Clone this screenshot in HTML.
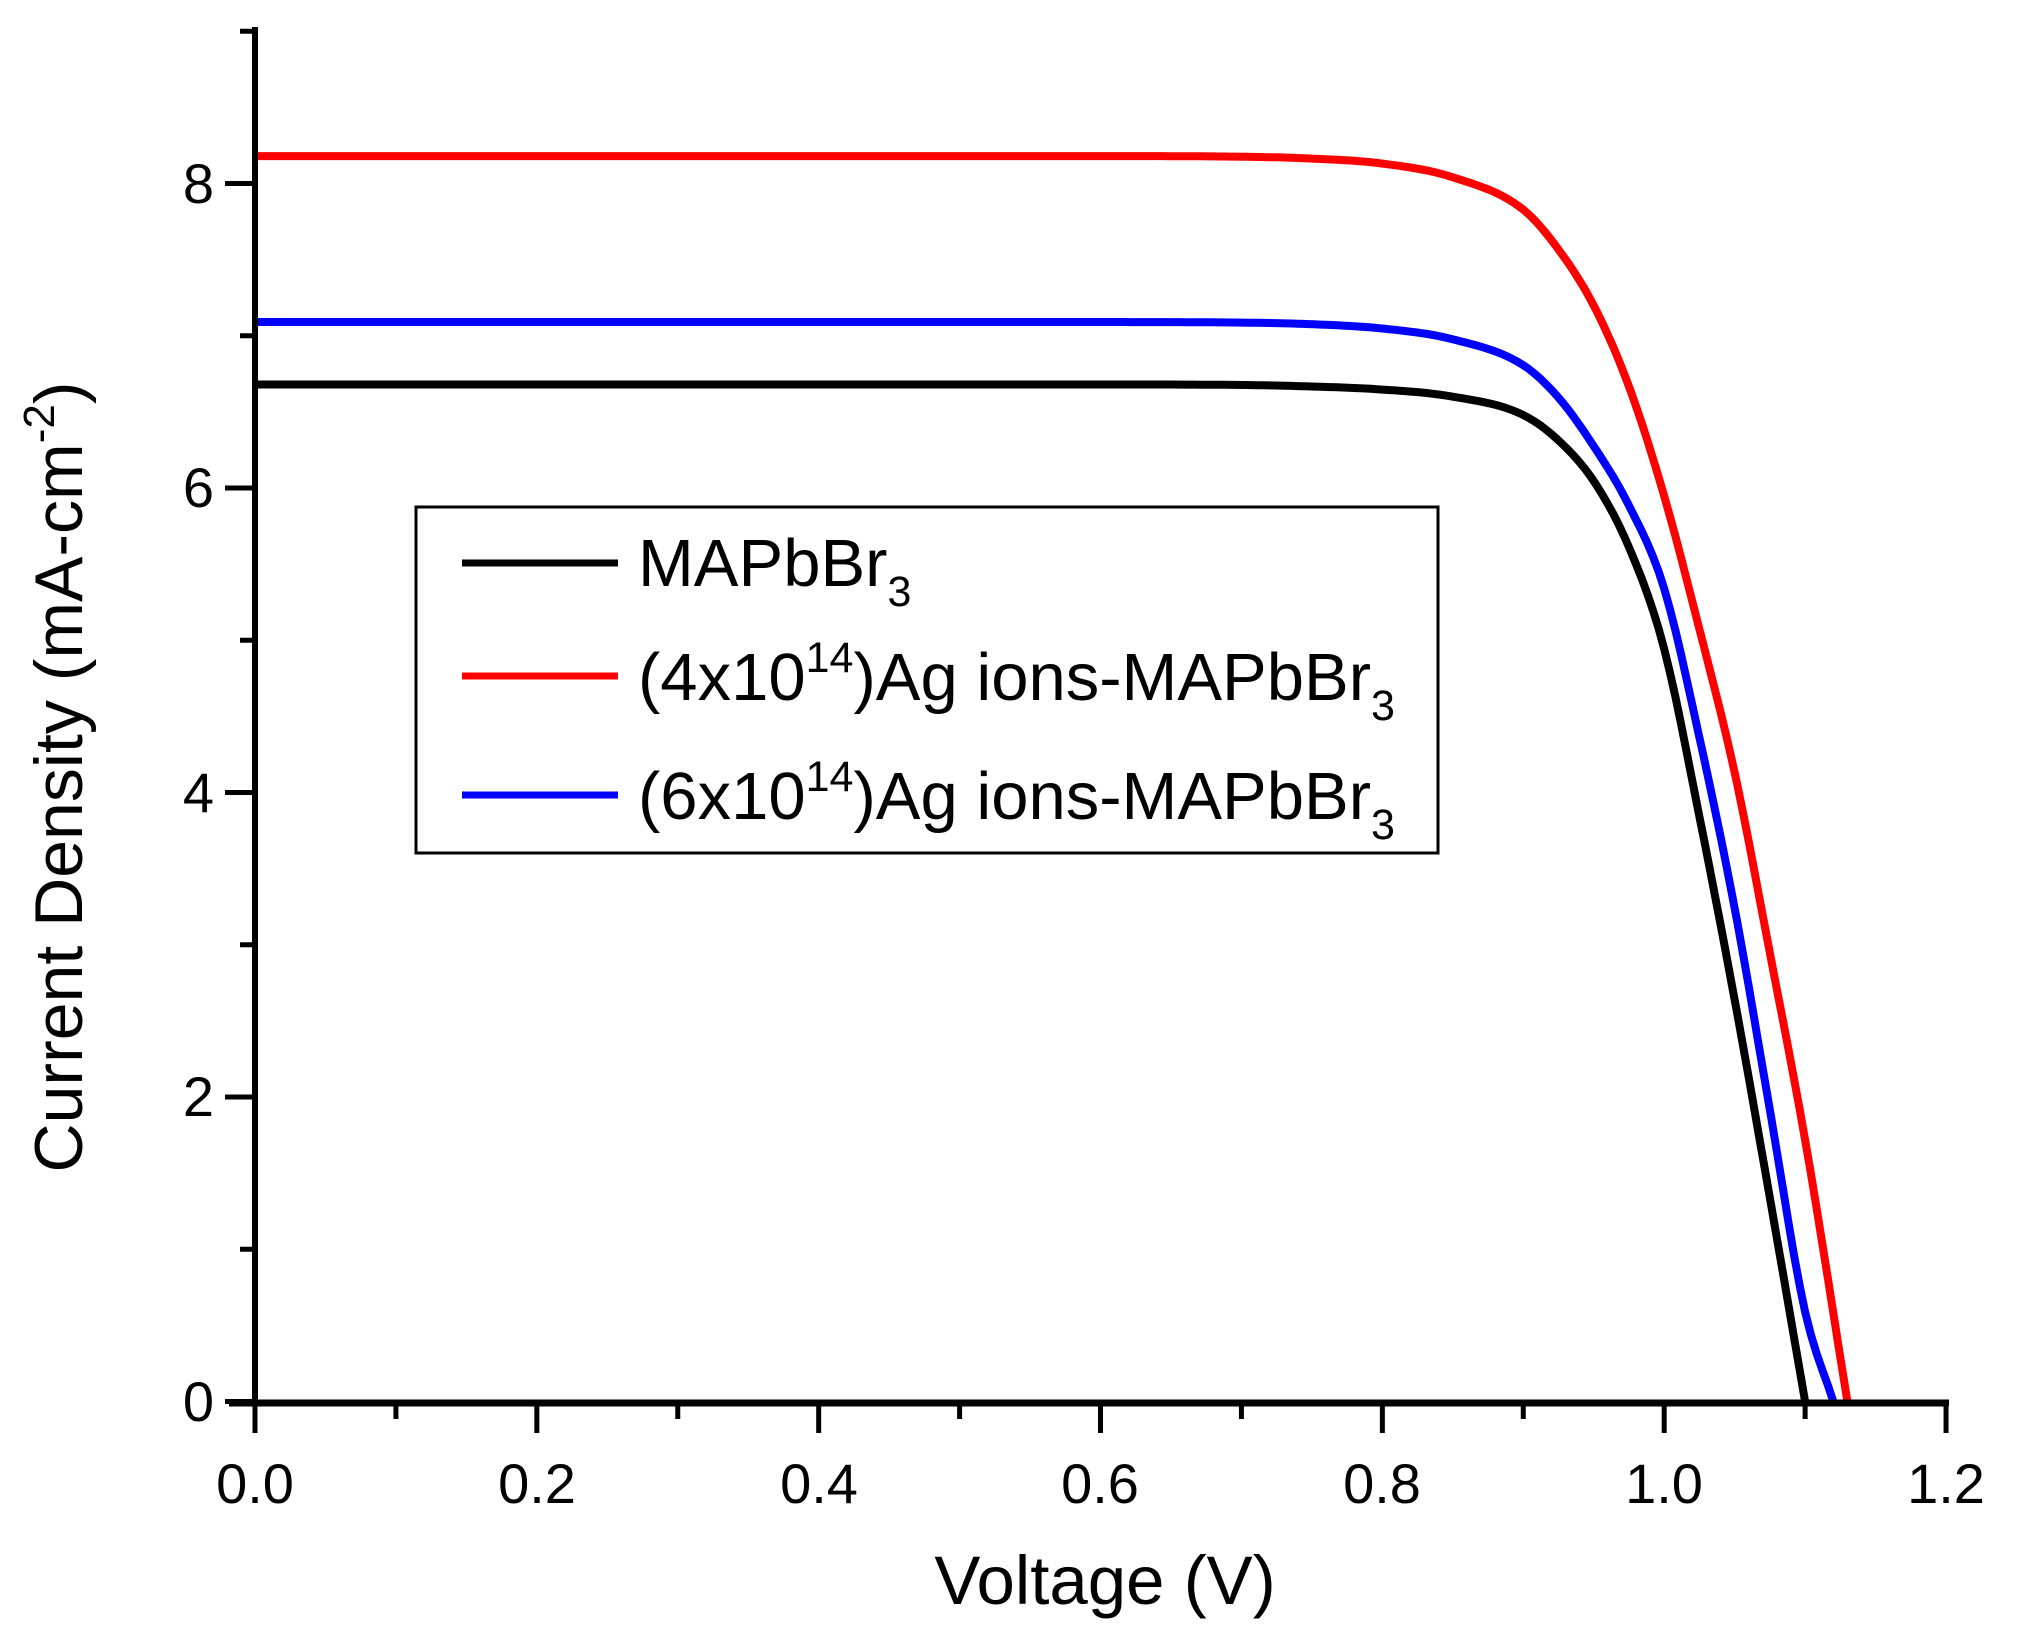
<!DOCTYPE html>
<html><head><meta charset="utf-8"><style>
html,body{margin:0;padding:0;background:#fff;}
svg text{font-family:"Liberation Sans",Arial,sans-serif;}
</style></head><body>
<svg id="s" width="2017" height="1636" viewBox="0 0 2017 1636" xmlns="http://www.w3.org/2000/svg">
<rect width="2017" height="1636" fill="#fff"/>
<g id="curves" fill="none" stroke-width="8" stroke-linejoin="round"></g>
<g stroke="#000" stroke-width="6" fill="none">
<line x1="255" y1="27" x2="255" y2="1405"/>
<line x1="229" y1="1403" x2="1949" y2="1403" stroke-width="7"/>
</g>
<g id="ticks" stroke="#000" stroke-width="5"></g>
<g font-size="56" fill="#000" text-anchor="middle">
<text x="255" y="1503">0.0</text><text x="537" y="1503">0.2</text><text x="819" y="1503">0.4</text>
<text x="1100" y="1503">0.6</text><text x="1382" y="1503">0.8</text><text x="1664" y="1503">1.0</text><text x="1946" y="1503">1.2</text>
</g>
<g font-size="56" fill="#000" text-anchor="end">
<text x="214" y="1421">0</text><text x="214" y="1116">2</text><text x="214" y="812">4</text><text x="214" y="507">6</text><text x="214" y="203">8</text>
</g>
<text x="1105" y="1604" font-size="69" text-anchor="middle">Voltage (V)</text>
<text transform="translate(82,777) rotate(-90)" font-size="68" text-anchor="middle">Current Density (mA-cm<tspan dy="-28" font-size="44">-2</tspan><tspan dy="28">)</tspan></text>
<rect x="416" y="507" width="1022" height="346" fill="#fff" stroke="#000" stroke-width="3"/>
<g stroke-width="7">
<line x1="462" y1="563" x2="618" y2="563" stroke="#000"/>
<line x1="462" y1="676" x2="618" y2="676" stroke="#f00"/>
<line x1="462" y1="795" x2="618" y2="795" stroke="#00f"/>
</g>
<g font-size="67" fill="#000">
<text x="638" y="586">MAPbBr<tspan dy="20" font-size="43">3</tspan></text>
<text x="638" y="700">(4x10<tspan dy="-28" font-size="43">14</tspan><tspan dy="28">)Ag ions-MAPbBr</tspan><tspan dy="20" font-size="43">3</tspan></text>
<text x="638" y="819">(6x10<tspan dy="-28" font-size="43">14</tspan><tspan dy="28">)Ag ions-MAPbBr</tspan><tspan dy="20" font-size="43">3</tspan></text>
</g>
</svg>
<script>
(function(){
var X=function(v){return 255+v*1409.2;};
var Y=function(j){return 1401.5-j*152.25;};
var t=document.getElementById('ticks'),h='';
for(var i=0;i<=12;i++){var x=X(i/10);h+='<line x1="'+x+'" y1="1403" x2="'+x+'" y2="'+(i%2?1419:1433)+'"/>';}
for(var k=0;k<=9;k++){var y=Y(k);h+='<line x1="'+(k%2?240:225)+'" y1="'+y+'" x2="255" y2="'+y+'"/>';}
t.innerHTML=h;
function mono(P){var n=P.length,d=[],m=[];
for(var i=0;i<n-1;i++)d.push((P[i+1][1]-P[i][1])/(P[i+1][0]-P[i][0]));
m[0]=d[0];m[n-1]=d[n-2];
for(i=1;i<n-1;i++){m[i]=(d[i-1]*d[i]<=0)?0:(d[i-1]+d[i])/2;}
for(i=0;i<n-1;i++){if(d[i]==0){m[i]=0;m[i+1]=0;continue;}var a=m[i]/d[i],b=m[i+1]/d[i],s=a*a+b*b;if(s>9){var tt=3/Math.sqrt(s);m[i]=tt*a*d[i];m[i+1]=tt*b*d[i];}}
return function(v){for(var i=0;i<n-1;i++){if(v<=P[i+1][0]){var hh=P[i+1][0]-P[i][0],s=(v-P[i][0])/hh,s2=s*s,s3=s2*s;
return (2*s3-3*s2+1)*P[i][1]+(s3-2*s2+s)*hh*m[i]+(-2*s3+3*s2)*P[i+1][1]+(s3-s2)*hh*m[i+1];}}return P[n-1][1];};}
var series=[
{c:'#000',J:6.68,P:[[0,1],[0.6,1],[0.7,0.9995],[0.75,0.998],[0.8,0.995],[0.85,0.988],[0.9,0.97],[0.925,0.945],[0.95,0.905],[0.975,0.84],[1.0,0.74],[1.025,0.575],[1.05,0.395],[1.075,0.2],[1.10,0]]},
{c:'#00f',J:7.09,P:[[0,1],[0.6,1],[0.7,0.9995],[0.75,0.998],[0.8,0.994],[0.85,0.984],[0.9,0.96],[0.925,0.93],[0.95,0.885],[0.975,0.83],[1.0,0.753],[1.025,0.615],[1.05,0.457],[1.075,0.27],[1.1,0.083],[1.12,0]]},
{c:'#f00',J:8.18,P:[[0,1],[0.6,1],[0.7,0.9995],[0.75,0.998],[0.8,0.994],[0.85,0.983],[0.9,0.957],[0.925,0.925],[0.95,0.88],[0.975,0.815],[1.0,0.727],[1.025,0.62],[1.05,0.505],[1.075,0.36],[1.1,0.21],[1.13,0]]}];
var g=document.getElementById('curves'),o='';
series.forEach(function(s){var f=mono(s.P),d='',end=s.P[s.P.length-1][0];
for(var v=0;v<=end+1e-9;v+=0.004){var y=Math.min(1,Math.max(0,f(v)));d+=(d?'L':'M')+X(v).toFixed(1)+','+Y(y*s.J).toFixed(1);}
d+='L'+X(end).toFixed(1)+','+Y(0).toFixed(1);
o+='<path d="'+d+'" stroke="'+s.c+'"/>';});
g.innerHTML=o;
})();
</script>
</body></html>
